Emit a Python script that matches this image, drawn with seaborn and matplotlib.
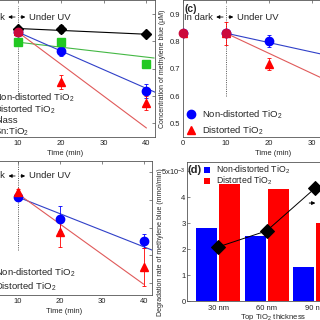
import matplotlib
matplotlib.use("Agg")
import matplotlib.pyplot as plt
import seaborn as sns
import pandas as pd

# ---- values ----
# top-left panel: concentration of methylene blue (uM) vs time (min)
t_a = [10, 20, 40]
a_non = [0.834, 0.765, 0.618]
a_non_err = [0.010, 0.018, 0.025]
a_dis = [0.838, 0.651, 0.574]
a_dis_err = [0.010, 0.025, 0.025]
a_glass = [0.845, 0.845, 0.827]
a_glass_err = [0.008, 0.015, 0.008]
a_sn = [0.797, 0.797, 0.717]
a_sn_err = [0.010, 0.015, 0.015]
a_shared = [0.834]          # overlapping point at t = 10
# linear fits (start / end)
a_fit_non_t, a_fit_non = [10, 42], [0.834, 0.614]
a_fit_dis_t, a_fit_dis = [10, 40], [0.834, 0.483]
a_fit_glass_t, a_fit_glass = [10, 40], [0.847, 0.826]
a_fit_sn_t, a_fit_sn = [10, 41.8], [0.797, 0.739]

# panel (c)
t_c = [0, 10, 20]
c_non = [0.83, 0.83, 0.80]
c_non_err = [0.006, 0.012, 0.022]
c_dis = [0.83, 0.83, 0.717]
c_dis_err = [0.006, 0.042, 0.022]
c_shared_t = [0, 10]
c_shared = [0.83, 0.83]
c_fit_non_t, c_fit_non = [10, 42], [0.83, 0.72]
c_fit_dis_t, c_fit_dis = [10, 42], [0.83, 0.595]

# bottom-left panel
t_e = [10, 20, 40]
e_non = [0.81, 0.731, 0.651]
e_non_err = [0.015, 0.045, 0.025]
e_dis = [0.828, 0.684, 0.558]
e_dis_err = [0.010, 0.055, 0.070]
e_fit_non_t, e_fit_non = [10, 42], [0.81, 0.619]
e_fit_dis_t, e_fit_dis = [10, 40], [0.822, 0.496]

# panel (d): degradation rate (x1e-3 mmol/min)
thickness = ['30 nm', '60 nm', '90 nm']
rate_non = [2.8, 2.5, 1.3]
rate_dis = [4.5, 4.3, 3.0]
ratio = [2.08, 2.7, 4.35]

lbl_non = 'Non-distorted TiO$_2$'
lbl_dis = 'Distorted TiO$_2$'

sns.set_style("white")
plt.rcParams['font.family'] = ['Liberation Sans', 'DejaVu Sans']
plt.rcParams['mathtext.default'] = 'regular'

BLUE, RED, BLACK, GREEN = '#0000ff', '#ff0000', '#000000', '#22c822'
CRIMSON = '#cc0a3c'

fig = plt.figure(figsize=(3.2, 3.2), dpi=100)


def box(x0, y0, x1, y1):
    return [x0 / 320, 1 - y1 / 320, (x1 - x0) / 320, (y1 - y0) / 320]


def style(ax):
    for s in ax.spines.values():
        s.set_color('#555555')
        s.set_linewidth(0.6)
    ax.tick_params(direction='in', top=True, right=True, length=2, width=0.5,
                   color='#555555', labelsize=5.5, pad=2, labelcolor='#222222')


def points(ax, t, y, err, color, marker, ms, label=None):
    c = ax.errorbar(t, y, yerr=err, fmt=marker, color=color, ms=ms, mec=color,
                    elinewidth=0.6, capsize=1.5, capthick=0.6, label=label, zorder=4)
    return c.lines[0]


def fit(ax, t, y, color):
    sns.lineplot(x=t, y=y, ax=ax, color=color, lw=0.8, zorder=3)


def dark_uv(ax, y, ytop, ybot):
    ax.vlines(10, ybot, ytop, colors='#555555', linestyles=(0, (1, 1.3)), lw=0.7, zorder=1)
    ax.annotate('', xy=(7.1, y), xytext=(10, y),
                arrowprops=dict(arrowstyle='-|>', color='k', lw=0.6, mutation_scale=5))
    ax.annotate('', xy=(12.4, y), xytext=(10, y),
                arrowprops=dict(arrowstyle='-|>', color='k', lw=0.6, mutation_scale=5))
    ax.text(6.9, y, 'In dark', ha='right', va='center', fontsize=6.8)
    ax.text(12.7, y, 'Under UV', ha='left', va='center', fontsize=6.8)


# ---------------- top-left ----------------
ax = fig.add_axes(box(-25, 0.35, 155, 137))
style(ax)
fit(ax, a_fit_glass_t, a_fit_glass, BLACK)
fit(ax, a_fit_sn_t, a_fit_sn, '#44b844')
fit(ax, a_fit_non_t, a_fit_non, '#3040c8')
fit(ax, a_fit_dis_t, a_fit_dis, '#e05a5a')
h_non = points(ax, t_a, a_non, a_non_err, BLUE, 'o', 6, lbl_non)
h_dis = points(ax, t_a, a_dis, a_dis_err, RED, '^', 6, lbl_dis)
h_gl = points(ax, t_a, a_glass, a_glass_err, BLACK, 'D', 5, 'Glass')
h_sn = points(ax, t_a, a_sn, a_sn_err, GREEN, 's', 5.5, 'Sn:TiO$_2$')
ax.plot([10], a_shared, 'o', color=CRIMSON, ms=6, zorder=5)
dark_uv(ax, 0.889, 0.93, 0.6)
ax.set_xlim(0, 42)
ax.set_ylim(0.45, 0.95)
ax.set_xticks([0, 10, 20, 30, 40])
ax.set_yticks([0.5, 0.6, 0.7, 0.8, 0.9])
ax.set_xlabel('Time (min)', fontsize=5.5, labelpad=2)
ax.legend([h_non, h_dis, h_gl, h_sn], [lbl_non, lbl_dis, 'Glass', 'Sn:TiO$_2$'],
          loc='upper left', bbox_to_anchor=(0.02, 0.35), fontsize=6.8,
          frameon=False, handlelength=1.0, handletextpad=0.4, labelspacing=0.0,
          borderpad=0.2, borderaxespad=0)

# ---------------- panel (c) ----------------
ax = fig.add_axes(box(183, 0.35, 363, 137))
style(ax)
fit(ax, c_fit_non_t, c_fit_non, '#3040c8')
fit(ax, c_fit_dis_t, c_fit_dis, '#e05a5a')
h_non = points(ax, t_c, c_non, c_non_err, BLUE, 'o', 6, lbl_non)
h_dis = points(ax, t_c, c_dis, c_dis_err, RED, '^', 6, lbl_dis)
ax.plot(c_shared_t, c_shared, 'o', color=CRIMSON, ms=6, zorder=5, clip_on=False)
dark_uv(ax, 0.889, 0.93, 0.6)
ax.set_xlim(0, 42)
ax.set_ylim(0.45, 0.95)
ax.set_xticks([0, 10, 20, 30, 40])
ax.set_yticks([0.5, 0.6, 0.7, 0.8, 0.9])
ax.set_xlabel('Time (min)', fontsize=5.5, labelpad=2)
ax.set_ylabel('Concentration of methylene blue (\u03bcM)', fontsize=5)
ax.yaxis.set_label_coords(-0.095, 0.5)
ax.text(0.01, 0.975, '(c)', transform=ax.transAxes, fontsize=7.5,
        fontweight='bold', va='top', ha='left')
ax.legend([h_non, h_dis], [lbl_non, lbl_dis], loc='upper left',
          bbox_to_anchor=(0.0, 0.23), fontsize=6.8, frameon=False,
          handlelength=1.0, handletextpad=0.7, labelspacing=0.35,
          borderpad=0.3, borderaxespad=0)

# ---------------- bottom-left ----------------
ax = fig.add_axes(box(-24, 161, 152, 295))
style(ax)
fit(ax, e_fit_non_t, e_fit_non, '#3040c8')
fit(ax, e_fit_dis_t, e_fit_dis, '#e05a5a')
h_non = points(ax, t_e, e_non, e_non_err, BLUE, 'o', 6, lbl_non)
h_dis = points(ax, t_e, e_dis, e_dis_err, RED, '^', 6, lbl_dis)
dark_uv(ax, 0.886, 0.94, 0.62)
ax.set_xlim(0, 42)
ax.set_ylim(0.457, 0.94)
ax.set_xticks([0, 10, 20, 30, 40])
ax.set_yticks([0.5, 0.6, 0.7, 0.8, 0.9])
ax.set_xlabel('Time (min)', fontsize=5.5, labelpad=2)
ax.legend([h_non, h_dis], [lbl_non, lbl_dis], loc='upper left',
          bbox_to_anchor=(0.02, 0.23), fontsize=6.8, frameon=False,
          handlelength=1.0, handletextpad=0.4, labelspacing=0.2,
          borderpad=0.2, borderaxespad=0)

# ---------------- panel (d) ----------------
ax = fig.add_axes(box(187, 162, 359, 301))
style(ax)
df = pd.DataFrame({
    'thickness': thickness * 2,
    'rate': rate_non + rate_dis,
    'type': [lbl_non] * 3 + [lbl_dis] * 3,
})
sns.barplot(data=df, x='thickness', y='rate', hue='type', ax=ax,
            palette=[BLUE, RED], width=0.96, gap=0.1, saturation=1,
            edgecolor='none')
handles, labels = ax.get_legend_handles_labels()
ax.legend(handles, labels, loc='upper left', bbox_to_anchor=(0.09, 1.0),
          fontsize=6.3, frameon=False, handlelength=0.7, handleheight=0.7,
          handletextpad=0.6, labelspacing=-0.15, borderpad=0.2, borderaxespad=0)
ax.set_xlim(-0.64, 2.9)
ax.set_ylim(0, 5.35)
ax.set_yticks([0, 1, 2, 3, 4, 5])
ax.set_yticklabels(['0', '1', '2', '3', '4', '5x10$^{-3}$'])
ax.tick_params(axis='x', length=0, top=False, pad=3)
ax.tick_params(axis='y', right=False, pad=1)
ax.set_xlabel('Top TiO$_2$ thickness', fontsize=5.5, labelpad=0)
ax.set_ylabel('Degradation rate of methylene blue (mmol/min)', fontsize=5)
ax.yaxis.set_label_coords(-0.136, 0.42)
ax.text(0.005, 0.975, '(d)', transform=ax.transAxes, fontsize=8,
        fontweight='bold', va='top', ha='left')
ax.annotate('', xy=(2.06, 3.77), xytext=(1.82, 3.77),
            arrowprops=dict(arrowstyle='-|>', color='k', lw=0.7, mutation_scale=5))

ax2 = ax.twinx()
sns.lineplot(x=[0, 1, 2], y=ratio, ax=ax2, color='k', lw=0.7, marker='D',
             markersize=7, markeredgecolor='k', zorder=5)
ax2.set_ylim(0, 5.35)
ax2.set_xlim(-0.64, 2.9)
ax2.set_yticks([])
for s in ax2.spines.values():
    s.set_visible(False)

fig.savefig('out.png', dpi=100)
